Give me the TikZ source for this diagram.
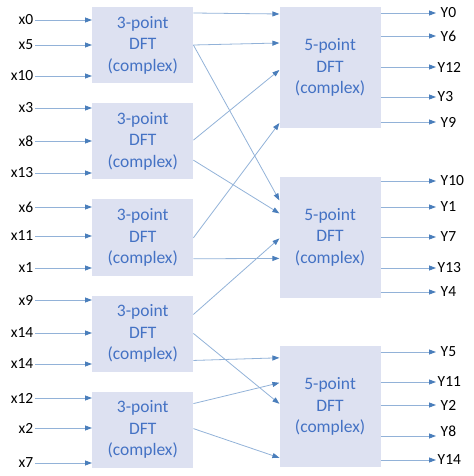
\documentclass[tikz,border=0pt]{standalone}
\usepackage{fontspec}
\setmainfont{Carlito}
\usetikzlibrary{calc,positioning,arrows.meta}
\definecolor{boxfill}{RGB}{221,225,241}
\definecolor{dfttext}{RGB}{68,114,196}
\definecolor{wireblue}{RGB}{146,178,216}
\definecolor{tipblue}{RGB}{74,126,187}

\begin{document}
\begin{tikzpicture}[x=1bp, y=-1bp,
        dft3/.style={fill=boxfill, text=dfttext, align=center, inner sep=0pt, minimum width=101bp, minimum height=76bp, font=\fontsize{17.5bp}{21.5bp}\selectfont},
        dft5/.style={dft3, minimum height=121bp},
        inlbl/.style={anchor=east, inner xsep=1.5bp, font=\fontsize{15.5bp}{18bp}\selectfont},
        outlbl/.style={anchor=west, inner xsep=4.5bp, font=\fontsize{15.5bp}{18bp}\selectfont},
        outtight/.style={outlbl, inner xsep=1.5bp},
        flow/.style={draw=wireblue, line width=0.8bp, -{Triangle[length=7bp, width=5bp, color=tipblue]}}]

        \useasboundingbox (0,0) rectangle (474,476);

        \node [dft3, anchor=north west] (t1) at (92,7) {3-point\\DFT\\(complex)};
        \node [dft3, below=19.75bp of t1] (t2) {3-point\\DFT\\(complex)};
        \node [dft3, below=19.75bp of t2] (t3) {3-point\\DFT\\(complex)};
        \node [dft3, below=19.75bp of t3] (t4) {3-point\\DFT\\(complex)};
        \node [dft3, below=19.75bp of t4] (t5) {3-point\\DFT\\(complex)};

        \node [dft5, below right=0bp and 86bp of t1.north east] (fA) {5-point\\DFT\\(complex)};
        \node [dft5, below=48bp of fA] (fB) {5-point\\DFT\\(complex)};
        \node [dft5, below=48bp of fB] (fC) {5-point\\DFT\\(complex)};

        % inputs
        \node [inlbl] (x0) at (35,20) {x0};
        \node [inlbl] (x5) at (35,45) {x5};
        \node [inlbl] (x10) at (35,76) {x10};
        \node [inlbl] (x3) at (35,108) {x3};
        \node [inlbl] (x8) at (35,141) {x8};
        \node [inlbl] (x13) at (35,173) {x13};
        \node [inlbl] (x6) at (35,207) {x6};
        \node [inlbl] (x11) at (35,236) {x11};
        \node [inlbl] (x1) at (35,268) {x1};
        \node [inlbl] (x9) at (35,300) {x9};
        \node [inlbl] (x14a) at (35,333) {x14};
        \node [inlbl] (x14b) at (35,364) {x14};
        \node [inlbl] (x12) at (35,398) {x12};
        \node [inlbl] (x2) at (35,428) {x2};
        \node [inlbl] (x7) at (35,463) {x7};

        \draw[flow] (x0) -- (x0 -| t1.west);
        \draw[flow] (x5) -- (x5 -| t1.west);
        \draw[flow] (x10) -- (x10 -| t1.west);
        \draw[flow] (x3) -- (x3 -| t2.west);
        \draw[flow] (x8) -- (x8 -| t2.west);
        \draw[flow] (x13) -- (x13 -| t2.west);
        \draw[flow] (x6) -- (x6 -| t3.west);
        \draw[flow] (x11) -- (x11 -| t3.west);
        \draw[flow] (x1) -- (x1 -| t3.west);
        \draw[flow] (x9) -- (x9 -| t4.west);
        \draw[flow] (x14a) -- (x14a -| t4.west);
        \draw[flow] (x14b) -- (x14b -| t4.west);
        \draw[flow] (x12) -- (x12 -| t5.west);
        \draw[flow] (x2) -- (x2 -| t5.west);
        \draw[flow] (x7) -- (x7 -| t5.west);

        % 3-point to 5-point
        \draw[flow] ($(t1.north east)+(0,6)$) -- ($(fA.north west)+(0,7)$);
        \draw[flow] ($(t1.north east)+(0,38)$) -- ($(fA.north west)+(0,36)$);
        \draw[flow] ($(t1.north east)+(0,38)$) -- ($(fB.north west)+(0,24)$);
        \draw[flow] ($(t2.north east)+(0,37)$) -- ($(fA.north west)+(0,63)$);
        \draw[flow] ($(t2.north east)+(0,57)$) -- ($(fB.north west)+(0,37)$);
        \draw[flow] ($(t3.north east)+(0,38.5)$) -- ($(fA.north west)+(0,116)$);
        \draw[flow] ($(t3.north east)+(0,59.5)$) -- ($(fB.north west)+(0,82)$);
        \draw[flow] ($(t4.north east)+(0,19)$) -- ($(fB.north west)+(0,62)$);
        \draw[flow] ($(t4.north east)+(0,38)$) -- ($(fC.north west)+(0,58)$);
        \draw[flow] ($(t4.north east)+(0,65)$) -- ($(fC.north west)+(0,12)$);
        \draw[flow] ($(t5.north east)+(0,12)$) -- ($(fC.north west)+(0,37)$);
        \draw[flow] ($(t5.north east)+(0,37)$) -- ($(fC.north west)+(0,112)$);

        % outputs
        \node [outlbl] (Y0) at (436,13) {Y0};
        \node [outlbl] (Y6) at (436,36) {Y6};
        \node [outtight] (Y12) at (436,67) {Y12};
        \node [outtight] (Y3) at (436,97) {Y3};
        \node [outlbl] (Y9) at (436,122) {Y9};
        \node [outlbl] (Y10) at (436,181) {Y10};
        \node [outlbl] (Y1) at (436,207) {Y1};
        \node [outlbl] (Y7) at (436,237) {Y7};
        \node [outtight] (Y13) at (436,268) {Y13};
        \node [outlbl] (Y4) at (436,292) {Y4};
        \node [outlbl] (Y5) at (436,352) {Y5};
        \node [outtight] (Y11) at (436,382) {Y11};
        \node [outlbl] (Y2) at (436,405) {Y2};
        \node [outlbl, anchor=base west] (Y8) at (436,436) {Y8};
        \node [outtight] (Y14) at (436,460) {Y14};

        \draw[flow] (fA.east |- Y0) -- (Y0);
        \draw[flow] (fA.east |- Y6) -- (Y6);
        \draw[flow] (fA.east |- Y12) -- (Y12);
        \draw[flow] (fA.east |- Y3) -- (Y3);
        \draw[flow] (fA.east |- Y9) -- (Y9);
        \draw[flow] (fB.east |- Y10) -- (Y10);
        \draw[flow] (fB.east |- Y1) -- (Y1);
        \draw[flow] (fB.east |- Y7) -- (Y7);
        \draw[flow] (fB.east |- Y13) -- (Y13);
        \draw[flow] (fB.east |- Y4) -- (Y4);
        \draw[flow] (fC.east |- Y5) -- (Y5);
        \draw[flow] (fC.east |- Y11) -- (Y11);
        \draw[flow] (fC.east |- Y2) -- (Y2);
        \draw[flow] (fC.east |- Y8.base west) -- (Y8.base west);
        \draw[flow] (fC.east |- Y14) -- (Y14);

\end{tikzpicture}
\end{document}
